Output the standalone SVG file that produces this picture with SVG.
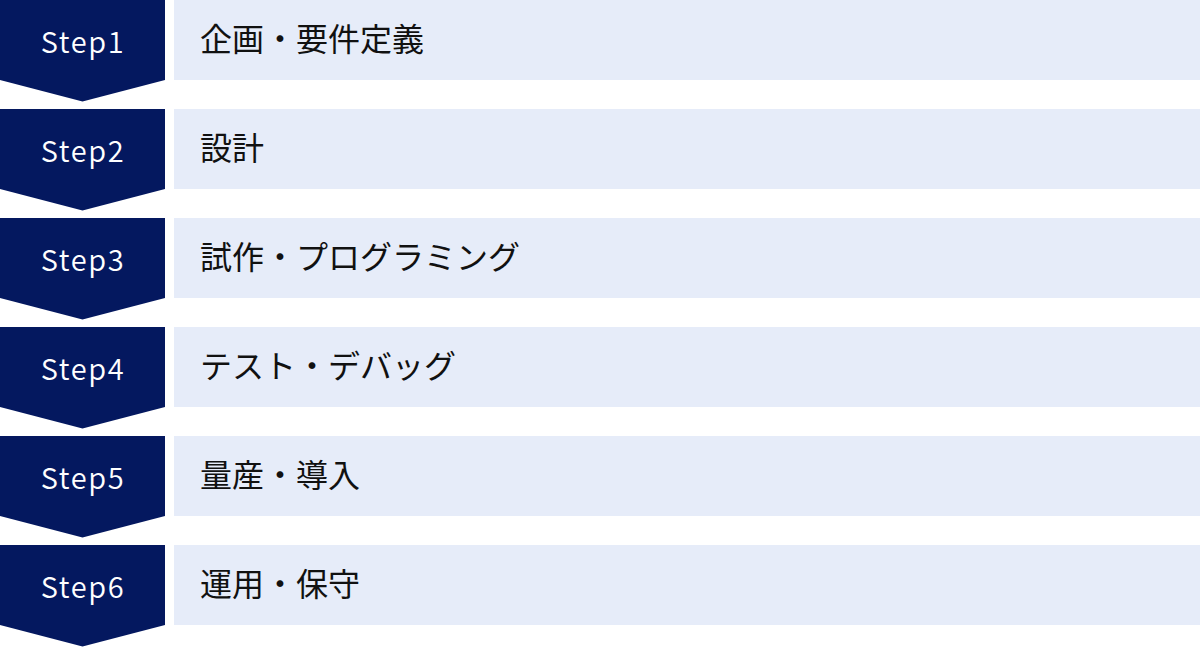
<svg xmlns="http://www.w3.org/2000/svg" width="1200" height="647" viewBox="0 0 1200 647">
<defs>
<style>
.arrow{fill:#04185F}
.band{fill:#E6ECF9}
.lbl{font-family:"Noto Sans CJK JP","Noto Sans",sans-serif;font-size:29px;font-weight:350;letter-spacing:1.6px;fill:#FFFFFF;text-anchor:middle}
.txt{font-family:"Noto Sans CJK JP","Noto Sans",sans-serif;font-size:32px;fill:#111111}
</style>
<path id="chev" d="M0,0 H165 V80 L82.5,101.5 L0,80 Z"/>
</defs>
<rect width="1200" height="647" fill="#FFFFFF"/>
<g id="step1" transform="translate(0,0)">
<use href="#chev" class="arrow"/><rect class="band" x="174" y="0" width="1026" height="80"/>
<text class="lbl" x="83" y="52.5">Step1</text><text class="txt" x="200" y="51">企画・要件定義</text>
</g>
<g id="step2" transform="translate(0,109)">
<use href="#chev" class="arrow"/><rect class="band" x="174" y="0" width="1026" height="80"/>
<text class="lbl" x="83" y="52.5">Step2</text><text class="txt" x="200" y="51">設計</text>
</g>
<g id="step3" transform="translate(0,218)">
<use href="#chev" class="arrow"/><rect class="band" x="174" y="0" width="1026" height="80"/>
<text class="lbl" x="83" y="52.5">Step3</text><text class="txt" x="200" y="51">試作・プログラミング</text>
</g>
<g id="step4" transform="translate(0,327)">
<use href="#chev" class="arrow"/><rect class="band" x="174" y="0" width="1026" height="80"/>
<text class="lbl" x="83" y="52.5">Step4</text><text class="txt" x="200" y="51">テスト・デバッグ</text>
</g>
<g id="step5" transform="translate(0,436)">
<use href="#chev" class="arrow"/><rect class="band" x="174" y="0" width="1026" height="80"/>
<text class="lbl" x="83" y="52.5">Step5</text><text class="txt" x="200" y="51">量産・導入</text>
</g>
<g id="step6" transform="translate(0,545)">
<use href="#chev" class="arrow"/><rect class="band" x="174" y="0" width="1026" height="80"/>
<text class="lbl" x="83" y="52.5">Step6</text><text class="txt" x="200" y="51">運用・保守</text>
</g>
<g id="connectors"/>
</svg>
